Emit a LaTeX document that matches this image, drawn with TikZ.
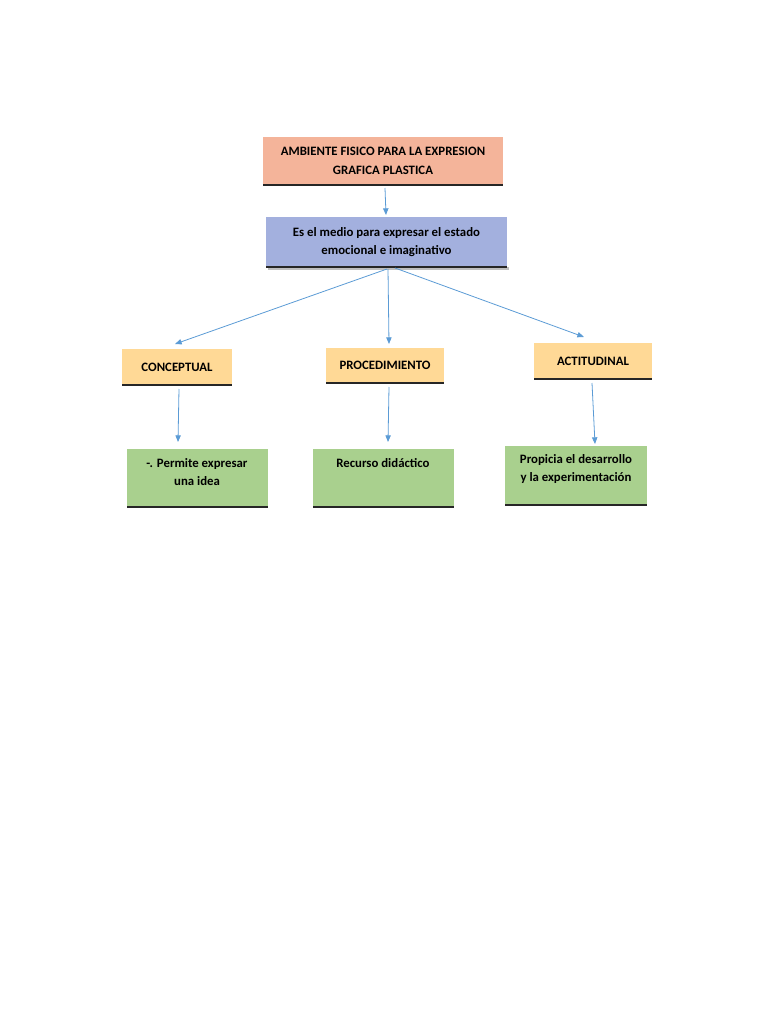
\documentclass[tikz,border=0pt]{standalone}
\usepackage{fontspec}
\setmainfont{Carlito}
\usetikzlibrary{arrows.meta}
\definecolor{salm}{HTML}{F4B49A}
\definecolor{blu}{HTML}{A3B0DE}
\definecolor{ora}{HTML}{FFD996}
\definecolor{gre}{HTML}{A9D08E}
\definecolor{arr}{HTML}{5B9BD5}
\begin{document}
\begin{tikzpicture}[x=0.75pt,y=-0.75pt,
 box/.style={draw=none,inner sep=0pt,align=center,font=\fontsize{9.6}{14}\selectfont\bfseries},
 bot/.style={line width=1pt,draw=black!85},
 conn/.style={draw=arr,line width=0.6pt,-{Triangle[length=5pt,width=4pt]}}]
\useasboundingbox (0,0) rectangle (768,1024);
\newcommand{\bx}[7]{% name, x1,y1,x2,y2, color, text
 \fill[#6] (#2,#3) rectangle (#4,#5);
 \draw[bot] (#2,#5) -- (#4,#5);
 \node[box] (#1) at ({(#2+#4)/2},{(#3+#5)/2}) {#7};}
\bx{a}{263}{137}{503}{185}{salm}{AMBIENTE FISICO PARA LA EXPRESION\\GRAFICA PLASTICA}
\fill[black!25] (268,267) rectangle (509,270);
\bx{b}{266}{217}{507}{267}{blu}{Es el medio para expresar el estado\\emocional e imaginativo}
\bx{c1}{122}{349}{232}{385}{ora}{CONCEPTUAL}
\bx{c2}{326}{348}{444}{383}{ora}{PROCEDIMIENTO}
\bx{c3}{534}{343}{652}{379}{ora}{ACTITUDINAL}
\fill[gre] (127,449) rectangle (268,507); \draw[bot] (127,507)--(268,507);
\node[box] (g1) at (197,472) {-. Permite expresar\\una idea};
\fill[gre] (313,449) rectangle (454,507); \draw[bot] (313,507)--(454,507);
\node[box] (g2) at (383,463) {Recurso didáctico};
\fill[gre] (505,446) rectangle (647,505); \draw[bot] (505,505)--(647,505);
\node[box] (g3) at (576,469) {Propicia el desarrollo\\y la experimentación};
\coordinate (g1t) at (178,442); \coordinate (g2t) at (388,442); \coordinate (g3t) at (595,444);
\draw[conn] (385,188) -- (386,215);
\draw[conn] (387,269) -- (175,344);
\draw[conn] (388,269) -- (389,344);
\draw[conn] (395,268) -- (584,337);
\draw[conn] (179,389) -- (g1t);
\draw[conn] (389,387) -- (g2t);
\draw[conn] (592,383) -- (g3t);
\end{tikzpicture}
\end{document}
